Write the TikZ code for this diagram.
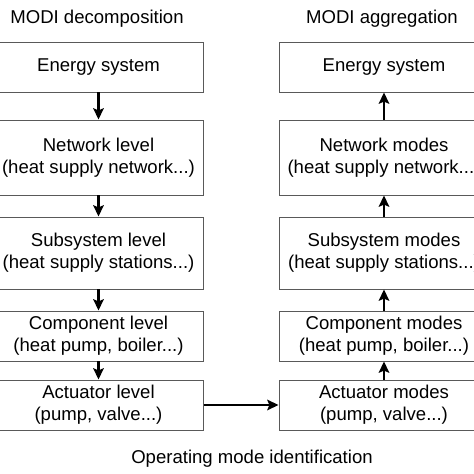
\documentclass[tikz,border=0pt]{standalone}
\usepackage{fontspec}
\setmainfont{Liberation Sans}
\usetikzlibrary{arrows.meta}

\begin{document}
\begin{tikzpicture}[
        level/.style={rectangle, draw=black!65, line width=0.7pt, minimum width=5.25cm, align=center, inner sep=0pt, font=\fontsize{13.2}{15.6}\selectfont},
        title_label/.style={anchor=base, font=\fontsize{13.2}{15.6}\selectfont},
        flow/.style={-{Stealth[length=8pt, width=7.5pt, inset=1.5pt]}, line width=1.5pt, black}
    ]
        \clip (0,0) rectangle (11.85,11.85);

        % MODI decomposition (left column)
        \node[level, minimum height=1.25cm] (dec_energy) at (2.4625,10.175) {Energy system};
        \node[level, minimum height=1.875cm] (dec_network) at (2.4625,7.9125) {Network level\\(heat supply network...)};
        \node[level, minimum height=1.8cm] (dec_subsystem) at (2.4625,5.525) {Subsystem level\\(heat supply stations...)};
        \node[level, minimum height=1.25cm] (dec_component) at (2.4625,3.45) {Component level\\(heat pump, boiler...)};
        \node[level, minimum height=1.25cm] (dec_actuator) at (2.4625,1.725) {Actuator level\\(pump, valve...)};
        \draw[flow] (dec_energy) -- (dec_network);
        \draw[flow] (dec_network) -- (dec_subsystem);
        \draw[flow] (dec_subsystem) -- (dec_component);
        \draw[flow] (dec_component) -- (dec_actuator);

        % MODI aggregation (right column)
        \node[level, minimum height=1.25cm] (agg_energy) at (9.6,10.175) {Energy system};
        \node[level, minimum height=1.875cm] (agg_network) at (9.6,7.9125) {Network modes\\(heat supply network...)};
        \node[level, minimum height=1.8cm] (agg_subsystem) at (9.6,5.525) {Subsystem modes\\(heat supply stations...)};
        \node[level, minimum height=1.25cm] (agg_component) at (9.6,3.45) {Component modes\\(heat pump, boiler...)};
        \node[level, minimum height=1.25cm] (agg_actuator) at (9.6,1.725) {Actuator modes\\(pump, valve...)};
        \draw[flow] (agg_actuator) -- (agg_component);
        \draw[flow] (agg_component) -- (agg_subsystem);
        \draw[flow] (agg_subsystem) -- (agg_network);
        \draw[flow] (agg_network) -- (agg_energy);

        % Operating mode identification
        \draw[flow] (dec_actuator) -- (agg_actuator);

        % Labels
        \node[title_label] (dec_title) at (2.425,11.26) {MODI decomposition};
        \node[title_label] (agg_title) at (9.55,11.26) {MODI aggregation};
        \node[title_label] (omi_title) at (6.3,0.2575) {Operating mode identification};

    \end{tikzpicture}
\end{document}
